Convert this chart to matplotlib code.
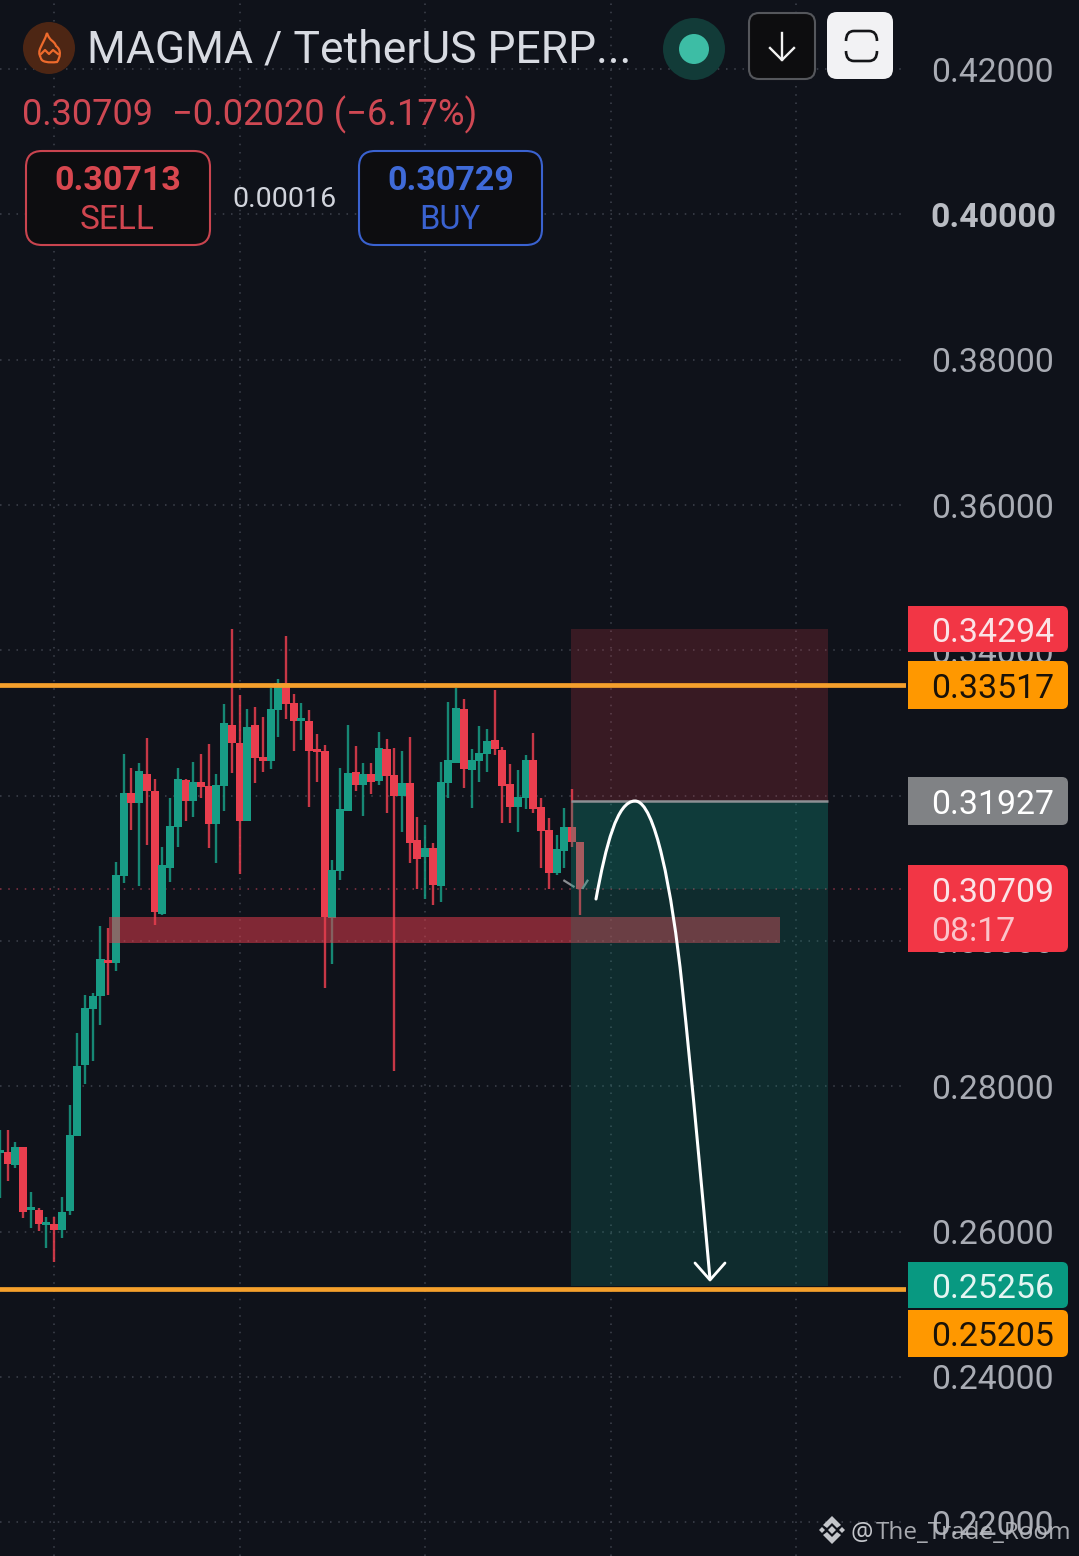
import numpy as np
import matplotlib
matplotlib.use("Agg")
import matplotlib.pyplot as plt
from matplotlib.patches import Circle, FancyBboxPatch, PathPatch, Polygon
from matplotlib.path import Path

plt.rcParams['font.family'] = ['Roboto', 'DejaVu Sans']

# candles
opens = [.27082, .27096, .26917, .27164, .26297, .26297, .26091, .26105, .26022, .26283,
         .27316, .28293, .29064, .29243, .29738, .29697, .30895, .32037, .319, .32299,
         .32065, .30372, .31005, .31569, .32216, .31927, .32189, .32134, .3161, .32134,
         .32973, .32725, .31652, .32973, .32533, .32478, .3318, .33551, .33276, .33028,
         .33028, .32629, .32615, .30317, .30964, .31789, .32326, .32147, .32299, .32202,
         .32643, .32285, .31996, .32175, .3139, .31156, .3128, .30757, .32175, .3245,
         .33193, .32354, .32478, .32574, .32767, .32629, .32161, .31845, .31968, .32491,
         .31845, .31528, .30936, .31239, .31569, .31363]
closes = [.27109, .2693, .27164, .2627, .26311, .26105, .26105, .26022, .2627, .2733,
          .28279, .29078, .29243, .29752, .29697, .30908, .32037, .319, .3234, .32065,
          .30399, .31046, .31583, .3223, .31927, .32189, .3212, .3161, .32147, .33001,
          .32725, .31652, .32946, .32519, .32478, .33193, .33551, .33262, .33028, .33042,
          .32615, .32602, .3033, .30977, .31817, .32313, .32147, .32299, .32189, .32657,
          .32271, .31996, .32175, .31349, .31129, .3128, .30771, .32189, .32491, .33207,
          .32368, .32491, .32588, .32753, .32643, .32134, .31845, .31982, .32491, .31817,
          .31514, .30936, .31266, .31569, .31363, .30709]
highs = [.27398, .27398, .27233, .27164, .26545, .26325, .26201, .26201, .26476, .27743,
         .28734, .29257, .29284, .30206, .30179, .31087, .32574, .32381, .3245, .32794,
         .3223, .31294, .31968, .32381, .3223, .32464, .32574, .32712, .32299, .33262,
         .34295, .33386, .33193, .33221, .33083, .33483, .33606, .34198, .334, .33276,
         .3318, .32849, .32698, .31115, .32381, .32973, .32684, .3245, .3245, .32877,
         .3278, .32657, .32615, .32808, .31707, .31597, .31349, .32464, .3329, .33483,
         .33331, .32643, .32959, .32918, .33455, .3267, .32436, .32354, .3256, .32863,
         .31968, .31693, .31459, .31831, .32092, .31363]
lows = [.26462, .26696, .26875, .26187, .26049, .26008, .25774, .25581, .25912, .26228,
        .27316, .28032, .28348, .28844, .29257, .29587, .30798, .31528, .30757, .31321,
        .3022, .30358, .30812, .31294, .31652, .31707, .31968, .3128, .31074, .31789,
        .32313, .30922, .31652, .32175, .32326, .32368, .32808, .33056, .32615, .32767,
        .31845, .32189, .29353, .29683, .3084, .31789, .32065, .31721, .32023, .32147,
        .31762, .28211, .315, .31074, .30716, .30578, .30496, .30537, .31968, .3245,
        .32106, .31831, .32189, .32326, .3256, .31624, .31624, .315, .31817, .31762,
        .31005, .30716, .30908, .31005, .31294, .30358]

price_ticks = [.42, .40, .38, .36, .34, .32, .30, .28, .26, .24, .22]
time_ticks = [7, 31, 55, 79, 103]

last_price = .30709
resistance = .33517
support = .25205
stop_price = .34294
entry_price = .31927
target_price = .25256
zone_top, zone_bottom = .3033, .29972
zone_start, zone_end = 14.1, 100.9
box_start, box_end = 73.87, 107.1

BG = '#0f121a'
GREEN = '#189c85'
RED = '#e93e4e'
ORANGE = '#f5a02c'
PX = 7.73       # pixels per candle

fig = plt.figure(figsize=(10.79, 15.56), dpi=100, facecolor=BG)
ax = fig.add_axes([0, 0, 906 / 1079, 1], facecolor=BG)
ax.set_xlim(0, 906 / PX)
ax.set_ylim(.30 - 615 / 7265, .30 + 941 / 7265)

# grid and price scale
ax.set_xticks(time_ticks)
ax.set_yticks(price_ticks)
ax.set_yticklabels(['%.5f' % p for p in price_ticks])
ax.yaxis.tick_right()
ax.tick_params(axis='y', length=0, pad=17.8, labelsize=24.3, labelcolor='#a9acb4')
ax.tick_params(axis='x', length=0, labelbottom=False)
ax.get_yticklabels()[1].set_fontweight('bold')
ax.get_yticklabels()[1].set_color('#b9bcc3')
ax.grid(True, color='#3f434e', lw=1.1, linestyle=(0, (1, 4.4)))
ax.set_axisbelow(True)
for s in ax.spines.values():
    s.set_visible(False)

ax.axhline(last_price, color='#8a3344', lw=1.1, linestyle=(0, (1, 4.4)), zorder=1)

# candles
x = np.arange(len(opens))
o = np.array(opens)
c = np.array(closes)
colors = [GREEN if c[i] >= o[i] else RED for i in x]
ax.vlines(x, lows, highs, colors=colors, lw=1.7, zorder=2, alpha=.85)
ax.bar(x, np.maximum(np.abs(c - o), .00035), bottom=np.minimum(o, c), width=1.04,
       color=colors, linewidth=0, zorder=3)

# faint arrow of the drawing under the last candle
ax.plot([73.0, 74.2], [.3083, .3075], color='#8a8d92', lw=1.6, zorder=3.2)
ax.plot([75.4, 76], [.3073, .3083], color='#8a8d92', lw=1.6, zorder=3.2)

# support zone and short position box
ax.fill_between([zone_start, zone_end], zone_bottom, zone_top, color=RED, alpha=.52, lw=0, zorder=4)
ax.fill_between([box_start, box_end], entry_price, stop_price, color=RED, alpha=.19, lw=0, zorder=5)
ax.fill_between([box_start, box_end], target_price, entry_price, color='#0f9d86', alpha=.19, lw=0, zorder=5)
ax.fill_between([box_start, box_end], last_price, entry_price, color='#0f9d86', alpha=.14, lw=0, zorder=5)
ax.plot([box_start, box_end], [entry_price, entry_price], color='#8d9094', lw=1.8, zorder=5,
        solid_capstyle='butt')

ax.axhline(resistance, color=ORANGE, lw=3.4, zorder=6)
ax.axhline(support, color=ORANGE, lw=3.4, zorder=6)

# everything else is in screen pixels
ui = fig.add_axes([0, 0, 1, 1])
ui.set_xlim(0, 1079)
ui.set_ylim(1556, 0)
ui.axis('off')

# hand drawn arrow
curve = Path([(596, 899), (606, 845), (617, 801), (635, 801),
              (655, 801), (672, 890), (682, 985),
              (693, 1090), (702, 1190), (710, 1279)],
             [Path.MOVETO] + [Path.CURVE4] * 9)
ui.add_patch(PathPatch(curve, fc='none', ec='white', lw=2.2, capstyle='round'))
ui.plot([695, 710, 725], [1263, 1280, 1263], color='white', lw=2.0, solid_capstyle='round')


def tag(y0, y1, color, lines, text_color):
    # price tag: square on the left, rounded on the right
    r = 6
    ui.add_patch(FancyBboxPatch((908 + r, y0 + r / 2), 160 - r - r / 2, y1 - y0 - r,
                                boxstyle='round,pad=%d,rounding_size=%d' % (r / 2, r),
                                fc=color, ec='none', zorder=5, mutation_aspect=1))
    ui.fill_between([908, 925], y0, y1, color=color, lw=0, zorder=5)
    for txt, yt, col in zip(lines[0], lines[1], text_color):
        ui.text(931.5, yt, txt, color=col, fontsize=24.4, va='center_baseline', ha='left', zorder=6)


tag(606, 652, '#f23645', (['0.34294'], [629]), ['#fbe3e6'])
tag(661, 709, '#ff9800', (['0.33517'], [685]), ['#1a1208'])
tag(777, 825, '#808285', (['0.31927'], [801]), ['#ffffff'])
tag(865, 952, '#f23645', (['0.30709', '08:17'], [889, 928]), ['#fbe3e6', '#fbc4ca'])
tag(1262, 1308, '#089981', (['0.25256'], [1285]), ['#e4f5f2'])
tag(1310, 1357, '#ff9800', (['0.25205'], [1333]), ['#1a1208'])

# header
ui.add_patch(Circle((49, 48), 26, fc='#4d2614', ec='none'))
flame = Path([(41, 58), (36, 50), (43, 46), (47, 33), (50, 42), (54, 40), (56, 46),
              (62, 50), (60, 58), (57, 62), (49, 63), (41, 62), (41, 58)],
             [Path.MOVETO] + [Path.CURVE4] * 12)
ui.add_patch(PathPatch(flame, fc='none', ec='#ee6a2c', lw=1.6))
ui.plot([41, 45, 49, 53, 58], [54, 50, 54, 50, 54], color='#ee6a2c', lw=1.6)
ui.text(87, 46, 'MAGMA / TetherUS PERP...', color='#d8dbe2', fontsize=32, va='center_baseline', ha='left')

ui.text(22, 110.5, '0.30709', color='#cf4853', fontsize=26, va='center_baseline', ha='left')
ui.text(172.5, 110.5, '\u22120.02020 (\u22126.17%)', color='#cf4853', fontsize=26.2, va='center_baseline', ha='left')

for x0, x1, col in [(26, 210, '#c9444f'), (359, 542, '#3a62d0')]:
    ui.add_patch(FancyBboxPatch((x0 + 14, 165), x1 - x0 - 28, 66,
                                boxstyle='round,pad=14,rounding_size=16',
                                fc='#0d0d10', ec=col, lw=1.5))
ui.text(118, 177, '0.30713', color='#d8474f', fontsize=24.5, fontweight='bold', va='center_baseline', ha='center')
ui.text(117, 216.5, 'SELL', color='#d0454f', fontsize=24, va='center_baseline', ha='center')
ui.text(451, 177, '0.30729', color='#3f6ad8', fontsize=24.5, fontweight='bold', va='center_baseline', ha='center')
ui.text(450, 216.5, 'BUY', color='#3a62d0', fontsize=23.5, va='center_baseline', ha='center')
ui.text(284, 196, '0.00016', color='#d1d4dc', fontsize=20.5, va='center_baseline', ha='center')

ui.add_patch(Circle((694, 49), 31, fc='#123b38', ec='none'))
ui.add_patch(Circle((694, 49), 15, fc='#3dbda5', ec='none'))

ui.add_patch(FancyBboxPatch((759, 23), 46, 46, boxstyle='round,pad=10,rounding_size=10',
                            fc='#0d0d0f', ec='#55575c', lw=1.5))
ui.plot([782, 782], [33, 60], color='#f2f2f2', lw=1.7)
ui.plot([770, 782, 794], [48, 60, 48], color='#f2f2f2', lw=1.7)

ui.add_patch(FancyBboxPatch((837, 22), 46, 47, boxstyle='round,pad=10,rounding_size=10',
                            fc='#f2f2f4', ec='none'))
# corner brackets of the icon
for ya, yb in [(41, 31), (51, 61)]:
    bracket = Path([(846, ya), (846, yb), (854, yb), (869, yb), (877, yb), (877, ya)],
                   [Path.MOVETO, Path.CURVE3, Path.CURVE3, Path.LINETO, Path.CURVE3, Path.CURVE3])
    ui.add_patch(PathPatch(bracket, fc='none', ec='#141518', lw=1.9))

# watermark
WM = '#c4c6cb'
ui.add_patch(Polygon([(832, 1516), (841, 1525), (837, 1528), (832, 1523), (827, 1528), (823, 1525)], fc=WM, ec='none', zorder=7))
ui.add_patch(Polygon([(832, 1544), (841, 1535), (837, 1532), (832, 1537), (827, 1532), (823, 1535)], fc=WM, ec='none', zorder=7))
for cx, r in [(822, 3), (832, 4), (842, 3)]:
    ui.add_patch(Polygon([(cx - r, 1530), (cx, 1530 - r), (cx + r, 1530), (cx, 1530 + r)], fc=WM, ec='none', zorder=7))
ui.text(851, 1530, '@', color=WM, fontsize=18, family='Open Sans', va='center_baseline', ha='left', zorder=7)
ui.text(876, 1530, 'The_Trade_Room', color='#b9bbc0', alpha=.9, fontsize=17.5, family='Open Sans',
        va='center_baseline', ha='left', zorder=7)

fig.savefig('out.png', dpi=100, facecolor=BG)
